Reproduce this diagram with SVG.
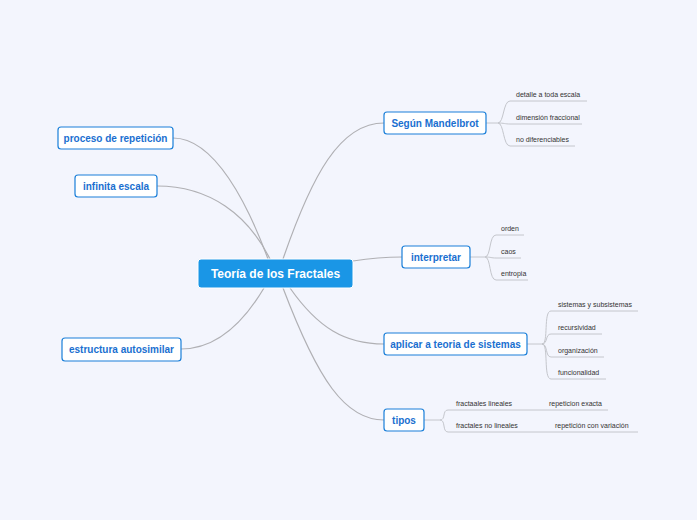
<svg xmlns="http://www.w3.org/2000/svg" width="697" height="520" viewBox="0 0 697 520">
<style>
.bg{fill:#f3f5fd}
.main rect{fill:#1a96e6;stroke:#ffffff;stroke-width:1}
.main text{fill:#ffffff;font-family:"Liberation Sans",Arial,sans-serif;font-weight:bold;font-size:12px;text-anchor:middle}
.topic rect{fill:#ffffff;stroke:#1a7fd9;stroke-width:1.2}
.topic text{fill:#1a6fd0;font-family:"Liberation Sans",Arial,sans-serif;font-weight:bold;font-size:10px;text-anchor:middle}
.leaf text{fill:#333333;font-family:"Liberation Sans",Arial,sans-serif;font-size:7px}
.conn path{fill:none;stroke:#b0b0b4;stroke-width:1.2}
.sub path{fill:none;stroke:#c4c6cc;stroke-width:1}
</style>
<rect class="bg" x="0" y="0" width="697" height="520"/>
<g id="connectors" class="conn">
<path d="M268,259 C248,205 215,138 173,138"/>
<path d="M270,259 C248,215 210,186 157,186"/>
<path d="M283,259 C312,175 340,123 384,123"/>
<path d="M353,261 C372,258 385,257 402,257"/>
<path d="M290,288 C318,328 345,344 384,344"/>
<path d="M283,288 C318,380 345,420 384,420"/>
<path d="M264,288 C242,325 215,349 181,349"/>
</g>
<g id="subconnectors" class="sub">
<path d="M486,123 H498"/>
<path d="M498,123 C504,123 503,101 510,101 H587"/>
<path d="M498,123 C504,123 505,124 510,124 H582"/>
<path d="M498,123 C504,123 503,146 510,146 H575"/>
<path d="M470,257 H485"/>
<path d="M485,257 C491,257 489,235 496,235 H524"/>
<path d="M485,257 C491,257 491,258 496,258 H521"/>
<path d="M485,257 C491,257 489,280 496,280 H528"/>
<path d="M527,344 H542"/>
<path d="M542,344 C549,344 543,311 551,311 H638"/>
<path d="M542,344 C548,344 545,334 551,334 H602"/>
<path d="M542,344 C548,344 545,357 551,357 H604"/>
<path d="M542,344 C549,344 543,379 551,379 H606"/>
<path d="M424,420 H440"/>
<path d="M440,420 C446,420 442,410 448,410 H608"/>
<path d="M440,420 C446,420 442,432 448,432 H638"/>
</g>
<g id="node-main" class="main">
<rect x="198" y="259" width="155" height="29" rx="3"/>
<text x="275.5" y="277.5">Teoría de los Fractales</text>
</g>
<g id="node-mandelbrot" class="topic">
<rect x="384" y="112" width="102" height="22" rx="3"/>
<text x="435" y="126.5">Según Mandelbrot</text>
</g>
<g id="node-interpretar" class="topic">
<rect x="402" y="246" width="68" height="22" rx="3"/>
<text x="436" y="260.5">interpretar</text>
</g>
<g id="node-aplicar" class="topic">
<rect x="384" y="333" width="143" height="22" rx="3"/>
<text x="455.5" y="347.5">aplicar a teoria de sistemas</text>
</g>
<g id="node-tipos" class="topic">
<rect x="384" y="409" width="40" height="22" rx="3"/>
<text x="404" y="423.5">tipos</text>
</g>
<g id="node-proceso" class="topic">
<rect x="58" y="127" width="115" height="22" rx="3"/>
<text x="115.5" y="141.5">proceso de repetición</text>
</g>
<g id="node-infinita" class="topic">
<rect x="75" y="175" width="82" height="22" rx="3"/>
<text x="116" y="189.5">infinita escala</text>
</g>
<g id="node-estructura" class="topic">
<rect x="62" y="338" width="119" height="23" rx="3"/>
<text x="121.5" y="353">estructura autosimilar</text>
</g>
<g id="leaves" class="leaf">
<g id="leaf-detalle"><text x="516" y="97">detalle a toda escala</text></g>
<g id="leaf-dimension"><text x="516" y="120">dimensión fraccional</text></g>
<g id="leaf-nodif"><text x="516" y="142">no diferenciables</text></g>
<g id="leaf-orden"><text x="501" y="231">orden</text></g>
<g id="leaf-caos"><text x="501" y="254">caos</text></g>
<g id="leaf-entropia"><text x="501" y="276">entropia</text></g>
<g id="leaf-sistemas"><text x="558" y="307">sistemas y subsistemas</text></g>
<g id="leaf-recursividad"><text x="558" y="330">recursividad</text></g>
<g id="leaf-organizacion"><text x="558" y="353">organización</text></g>
<g id="leaf-funcionalidad"><text x="558" y="375">funcionalidad</text></g>
<g id="leaf-lineales"><text x="456" y="406">fractaales lineales</text></g>
<g id="leaf-exacta"><text x="549" y="406">repeticion exacta</text></g>
<g id="leaf-nolineales"><text x="456" y="428">fractales no lineales</text></g>
<g id="leaf-variacion"><text x="555" y="428">repetición con variación</text></g>
</g>
</svg>
